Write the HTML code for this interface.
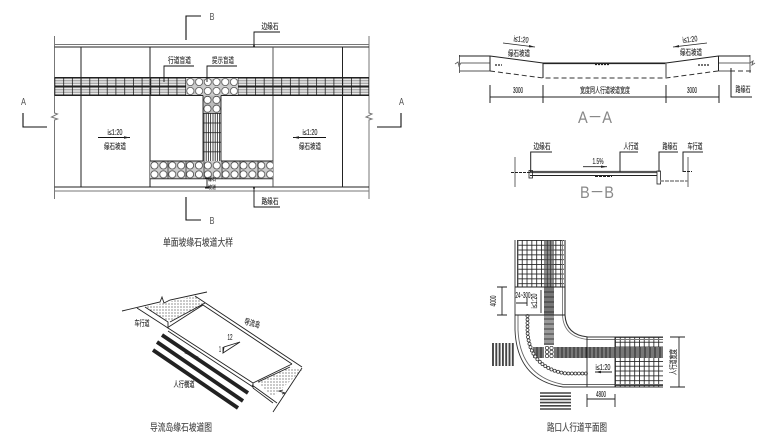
<!DOCTYPE html>
<html><head><meta charset="utf-8">
<style>
html,body{margin:0;padding:0;background:#fff;width:760px;height:445px;overflow:hidden}
svg{display:block}
text{font-family:"Liberation Sans","Noto Sans CJK SC",sans-serif;font-size:8px;fill:#222;stroke:#222;stroke-width:.12;text-anchor:middle}
.t{font-size:10px;fill:#444;stroke:#444}
.big{font-size:17px;fill:#888;stroke:none;font-weight:normal}
.m{font-size:10px;fill:#555;stroke:none}
</style></head><body>
<svg width="760" height="445" viewBox="0 0 760 445" xmlns="http://www.w3.org/2000/svg">
<defs>
<pattern id="bars" x="54.5" y="77.5" width="8.72" height="9" patternUnits="userSpaceOnUse">
<path d="M0 1.2H8.72M0 3.4H8.72M0 5.6H8.72M0 7.8H8.72" stroke="#555" stroke-width=".8"/>
<path d="M.3 0V9" stroke="#111" stroke-width=".9"/></pattern>
<pattern id="circ" x="186" y="77.5" width="8.72" height="9" patternUnits="userSpaceOnUse">
<circle cx="4.36" cy="4.5" r="3.6" fill="#fff" stroke="#555" stroke-width=".8"/></pattern>
<pattern id="circ2" x="150" y="161" width="8.9" height="8.9" patternUnits="userSpaceOnUse">
<rect width="8.9" height="8.9" fill="#ccc"/><circle cx="4.45" cy="4.45" r="3.6" fill="#fff" stroke="#444" stroke-width=".8"/></pattern>
<pattern id="circ3" x="203" y="95.5" width="9" height="8.8" patternUnits="userSpaceOnUse">
<rect width="9" height="8.8" fill="#bbb"/><circle cx="4.5" cy="4.4" r="3.6" fill="#fff" stroke="#444" stroke-width=".8"/></pattern>
<pattern id="vbars" x="203" y="113" width="9" height="9.6" patternUnits="userSpaceOnUse">
<path d="M1 0V9.6M3.2 0V9.6M5.4 0V9.6M7.6 0V9.6" stroke="#333" stroke-width=".9"/><path d="M0 .4H9" stroke="#222" stroke-width=".8"/></pattern>
<pattern id="grid" x="517" y="240" width="4.8" height="4.8" patternUnits="userSpaceOnUse">
<path d="M.4 0V4.8M0 .4H4.8" stroke="#222" stroke-width=".9"/></pattern>
<pattern id="grid2" x="615" y="337" width="4.8" height="4.8" patternUnits="userSpaceOnUse">
<path d="M.4 0V4.8M0 .4H4.8" stroke="#222" stroke-width=".9"/></pattern>
<pattern id="dark" x="544" y="240" width="10" height="4.8" patternUnits="userSpaceOnUse">
<rect width="10" height="4.8" fill="#888"/><path d="M0 .5H10M3.300 0V4.800M6.600 0V4.800" stroke="#333" stroke-width=".7"/></pattern>
<pattern id="dots" width="3" height="3" patternUnits="userSpaceOnUse">
<rect width="3" height="3" fill="#fff"/><circle cx="1" cy="1" r=".6" fill="#444"/></pattern>
</defs>

<!-- Main plan -->
<g fill="none" stroke="#333" stroke-width="1">
<path d="M54.5 36V113l3 1-6 3 6 2-3 1V199M369 36V113l3 1-6 3 6 2-3 1V199" stroke="#777"/>
<path d="M54.5 44.5H369" stroke="#777"/>
<path d="M54.5 47H369" stroke="#222"/>
<path d="M54.5 187H369" stroke="#222"/>
<path d="M54.5 191H369" stroke="#777"/>
<path d="M81 47V187M150 47V187M342.5 47V187" stroke="#222"/>
<path d="M273 47V187" stroke="#555"/>
</g>
<rect x="54.5" y="77.5" width="131.5" height="18" fill="url(#bars)"/>
<rect x="238" y="77.500" width="131" height="18" fill="url(#bars)"/>
<rect x="186" y="77.5" width="52" height="18" fill="#ccc"/>
<rect x="186" y="77.5" width="52" height="18" fill="url(#circ)"/>
<rect x="203" y="95.5" width="18" height="17.5" fill="url(#circ3)"/>
<rect x="203" y="113" width="18" height="48" fill="url(#vbars)"/>
<rect x="150" y="161" width="123" height="17.8" fill="url(#circ2)"/>
<path d="M54.5 77.5H369M54.5 86.500H186M238 86.500H369M54.5 95.5H203M221 95.5H369M150 161H203M221 161H273M150 178.8H273M203 95.5V161M221 95.5V161" stroke="#222" fill="none" stroke-width=".9"/>
<path d="M168 161V178.800M186 161V178.800M204 161V178.800M222 161V178.800M240 161V178.800M258 161V178.800" stroke="#222" fill="none" stroke-width=".7"/>
<g fill="none" stroke="#111" stroke-width="1.100">
<path d="M201 16H186V40M186 197V220H201"/>
<path d="M23 113V127H47M401 113V127H377" />
<path d="M194 66H164V82M237 66H207V82M280 32H254V46M254 188V207H280" stroke-width=".9"/>
<path d="M98 137.5H130M293 137.5H326M207 178V188M205 178H209M205 188H209" stroke-width=".9"/>
</g>
<path d="M130 137.5l-6-1.2v2.4zM293 137.5l6-1.2v2.4z" fill="#222"/>
<circle cx="254" cy="46" r="1" fill="#222"/><circle cx="254" cy="188" r="1" fill="#222"/>
<text x="212" y="20" class="m" textLength="5" lengthAdjust="spacingAndGlyphs">B</text>
<text x="212" y="224" class="m" textLength="5" lengthAdjust="spacingAndGlyphs">B</text>
<text x="23.5" y="105" class="m" textLength="5" lengthAdjust="spacingAndGlyphs">A</text>
<text x="401.5" y="105" class="m" textLength="5" lengthAdjust="spacingAndGlyphs">A</text>
<text x="179.5" y="63" textLength="23" lengthAdjust="spacingAndGlyphs">行道盲道</text>
<text x="223" y="63" textLength="22" lengthAdjust="spacingAndGlyphs">提示盲道</text>
<text x="270" y="29" textLength="17" lengthAdjust="spacingAndGlyphs">边缘石</text>
<text x="270" y="204" textLength="17" lengthAdjust="spacingAndGlyphs">路缘石</text>
<text x="115" y="135" textLength="15" lengthAdjust="spacingAndGlyphs">i≤1:20</text>
<text x="115" y="149" textLength="22" lengthAdjust="spacingAndGlyphs">缘石坡道</text>
<text x="310" y="135" textLength="15" lengthAdjust="spacingAndGlyphs">i≤1:20</text>
<text x="310" y="149" textLength="22" lengthAdjust="spacingAndGlyphs">缘石坡道</text>
<text x="212" y="181" style="font-size:5px" textLength="8" lengthAdjust="spacingAndGlyphs">缘石</text>
<text x="212" y="189" style="font-size:5px" textLength="8" lengthAdjust="spacingAndGlyphs">坡道</text>
<text x="198" y="246" class="t" textLength="70" lengthAdjust="spacingAndGlyphs">单面坡缘石坡道大样</text>

<!-- A-A -->
<g fill="none" stroke="#222" stroke-width="1">
<path d="M459.5 55V73M750 55V73" stroke="#666"/>
<path d="M459 56H490L543 63H666L718.5 56H750"/>
<path d="M543 63.5H666" stroke-width="1.2"/>
<path d="M455 64l3-2 1 4 2-3H490M750 63h-32M750 63l3-2-1 4 3-2" stroke="#666"/>
<path d="M459 71H490M718 71H730" stroke="#555"/>
<path d="M490 71L543 78H666L718 71M730 71H752" stroke-dasharray="5 3" stroke="#333"/>
<path d="M490 56V71M543 63V78M718.5 56V71"/>
<path d="M666 63V78" stroke="#777" stroke-width="1.4"/>
<path d="M495 65H502M595 64.5H610M698 65H710" stroke-dasharray="2 1" stroke-width="1.2"/>
<path d="M490 97H719M490 85V103M543 85V103M666 85V103M719 85V103"/>
<path d="M731 68V97H752"/>
<path d="M503 43L535 47M673 47L707 43" stroke-width=".8"/>
</g>
<path d="M535 47l-6-2v2.4zM673 47l6-2v2.4z" fill="#222"/>
<text x="518" y="93" textLength="10" lengthAdjust="spacingAndGlyphs">3000</text>
<text x="605" y="93" textLength="50" lengthAdjust="spacingAndGlyphs">宽度同人行道坡道宽度</text>
<text x="692" y="93" textLength="10" lengthAdjust="spacingAndGlyphs">3000</text>
<text x="743" y="92" textLength="15" lengthAdjust="spacingAndGlyphs">路缘石</text>
<text x="521" y="42" textLength="15" lengthAdjust="spacingAndGlyphs" transform="rotate(6 521 40)">i≤1:20</text>
<text x="519" y="56" textLength="22" lengthAdjust="spacingAndGlyphs">缘石坡道</text>
<text x="690" y="42" textLength="15" lengthAdjust="spacingAndGlyphs" transform="rotate(-6 690 40)">i≤1:20</text>
<text x="691" y="55" textLength="22" lengthAdjust="spacingAndGlyphs">缘石坡道</text>
<text x="595" y="123" class="big" textLength="34" lengthAdjust="spacingAndGlyphs">A－A</text>

<!-- B-B -->
<g fill="none" stroke="#222" stroke-width="1">
<path d="M530 172H657" stroke="#555" stroke-width="2.200"/>
<path d="M530 175.5H657"/>
<path d="M515 157V187M688 157V187" stroke="#666"/>
<path d="M511 172.5H530M683 171.5H692" stroke-dasharray="3 1"/>
<rect x="529" y="170.5" width="3.5" height="7.5" stroke-width=".8"/>
<rect x="657" y="171" width="3.5" height="13" stroke-width=".8"/>
<path d="M660 181H688" stroke="#888" stroke-width="1.6" stroke-dasharray="4 1"/>
<path d="M530.7 172V152H552M620 172V152H638M659 172V152H678M683 172V152H703"/>
<path d="M583 166.7H607" stroke-width=".8"/>
<path d="M595 176.5H612" stroke-dasharray="3 1"/>
</g>
<path d="M607 166.7l-6-1.2v2.4z" fill="#222"/>
<text x="542" y="149" textLength="17" lengthAdjust="spacingAndGlyphs">边缘石</text>
<text x="631" y="149" textLength="15" lengthAdjust="spacingAndGlyphs">人行道</text>
<text x="670" y="149" textLength="15" lengthAdjust="spacingAndGlyphs">路缘石</text>
<text x="695" y="149" textLength="15" lengthAdjust="spacingAndGlyphs">车行道</text>
<text x="598" y="164" textLength="11" lengthAdjust="spacingAndGlyphs">1.5%</text>
<text x="597" y="198" class="big" textLength="34" lengthAdjust="spacingAndGlyphs">B－B</text>

<!-- Corner plan -->
<rect x="517" y="240" width="47" height="47" fill="url(#grid)"/>
<rect x="615" y="337" width="48" height="50" fill="url(#grid2)"/>
<rect x="544" y="240" width="10" height="47" fill="url(#dark)"/>
<rect x="544" y="287" width="10" height="28" fill="#777"/>
<path d="M544 292H554M544 297H554M544 302H554M544 307H554M544 312H554" stroke="#222" stroke-width=".8"/>
<rect x="544" y="315" width="10" height="30" fill="#999"/>
<path d="M544 319H554M544 324H554M544 329H554M544 334H554M544 339H554M544 344H554" stroke="#222" stroke-width=".8"/>
<rect x="533" y="347" width="130" height="11" fill="#777"/>
<path d="M537 347V358M541 347V358M558 347V358M562 347V358M566 347V358M570 347V358M574 347V358M578 347V358M582 347V358M586 347V358M590 347V358M594 347V358M598 347V358M602 347V358M606 347V358M610 347V358M615 347V358M620 347V358M625 347V358M630 347V358M635 347V358M640 347V358M645 347V358M650 347V358M655 347V358M660 347V358" stroke="#222" stroke-width=".9"/>
<rect x="544" y="345" width="10" height="13" fill="#fff"/>
<g fill="#fff" stroke="#222" stroke-width=".7"><circle cx="547" cy="348" r="1.7"/><circle cx="551.5" cy="348" r="1.7"/><circle cx="547" cy="352" r="1.7"/><circle cx="551.5" cy="352" r="1.7"/><circle cx="547" cy="356" r="1.7"/><circle cx="551.5" cy="356" r="1.7"/></g>
<path d="M527.500 316V332Q530 368 566 373.500H587" fill="none" stroke="#333" stroke-width="3.800" stroke-linecap="round" stroke-dasharray="0 3.500"/>
<path d="M527.500 316V332Q530 368 566 373.500H587" fill="none" stroke="#fff" stroke-width="2.300" stroke-linecap="round" stroke-dasharray="0 3.500"/>
<g fill="none" stroke="#333" stroke-width=".9">
<path d="M515 240V330Q517 380 563 387H663"/>
<path d="M518 240V287M518 315V330Q520 376 563 384.500H663" stroke="#666"/>
<path d="M565 240V315Q566 335 588 337H663" stroke-width="1.1"/>
<path d="M562.500 240V315Q563.500 337 588 339.500H663" stroke="#777"/>
<path d="M515 287H565M515 315H565M587 337V387M615 337V387" stroke="#222"/>
<path d="M502 287V315M497 287H507M497 315H507M679 337V387M670 337H685M670 387H685M587 399H615M587 394V407M615 394V407" stroke="#222"/>
<path d="M516 303H527M527 298V306M541 290V313M595 372H612" stroke="#222"/>
</g>
<path d="M595 372l6-1.300v2.600z" fill="#222"/>
<path d="M493 343V366M496.300 343V366M499.600 343V366M502.900 343V366M506.200 343V366M509.500 343V366M512.800 343V366" stroke="#444" stroke-width="1.900"/>
<path d="M540 393H571M540 396.200H571M540 399.400H571M540 402.600H571M540 405.800H571M540 409H571" stroke="#444" stroke-width="1.600"/>
<text x="494" y="303" transform="rotate(-90 494 301)" textLength="11" lengthAdjust="spacingAndGlyphs">4000</text>
<text x="523" y="298" textLength="15" lengthAdjust="spacingAndGlyphs">24~300</text>
<text x="535" y="303" transform="rotate(-90 535 301)" textLength="15" lengthAdjust="spacingAndGlyphs">i≤1:20</text>
<text x="674" y="364" transform="rotate(-90 674 362)" textLength="26" lengthAdjust="spacingAndGlyphs">人行道宽度</text>
<text x="601" y="397" textLength="10" lengthAdjust="spacingAndGlyphs">4800</text>
<text x="603" y="370" textLength="15" lengthAdjust="spacingAndGlyphs">i≤1:20</text>
<text x="577" y="431" class="t" textLength="60" lengthAdjust="spacingAndGlyphs">路口人行道平面图</text>

<!-- Island -->
<polygon points="145,307 195,296 205,305 168,322" fill="url(#dots)"/>
<polygon points="257,382 290,367 302,370 273,397" fill="url(#dots)"/>
<g fill="none" stroke="#222" stroke-width=".9">
<path d="M122 311L160 302 162 297 164 303 170 300 207 292"/>
<path d="M137 308L168 328M145 307L168 322M195 296L302 367M203 305L292 364M168 322V328M167 328L203 305M170 322L205 303"/>
<path d="M168 328L253 383M168 331L253 387M253 383V388M253 383L292 364M258 382L290 367"/>
<path d="M252 385L277 403M253 388L273 403M273 412L302 368M283 390l-4 1 6 2-3 1"/>
<path d="M223 353L240 342 224 347ZM223 347V353"/>
</g>
<path d="M162 335L248 393M157 342L243 401M153 350L238 408" stroke="#222" stroke-width="3.800" fill="none"/>
<path d="M185 352L198 358" stroke="#222" stroke-width="2.500"/>
<text x="142" y="326" textLength="15" lengthAdjust="spacingAndGlyphs">车行道</text>
<text x="252" y="326" textLength="16" lengthAdjust="spacingAndGlyphs" transform="rotate(15 252 324)">导流岛</text>
<text x="184" y="387" textLength="21" lengthAdjust="spacingAndGlyphs">人行横道</text>
<text x="230" y="340" textLength="5" lengthAdjust="spacingAndGlyphs">12</text>
<text x="220" y="352" textLength="2" lengthAdjust="spacingAndGlyphs">1</text>
<text x="181" y="431" class="t" textLength="62" lengthAdjust="spacingAndGlyphs">导流岛缘石坡道图</text>
</svg>
</body></html>
